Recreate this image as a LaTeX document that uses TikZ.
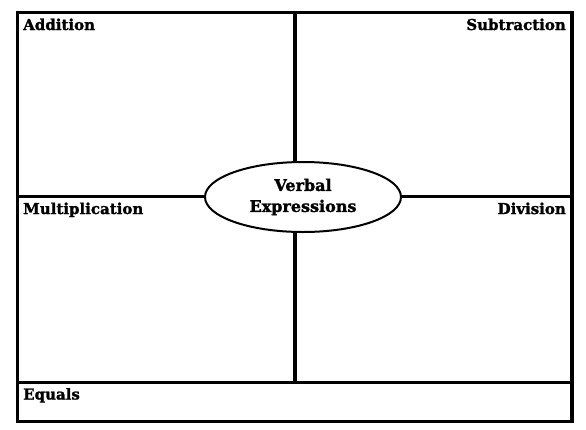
\documentclass[tikz,border=0pt]{standalone}
\usepackage{fontspec}
\setmainfont{DejaVu Serif}[BoldFeatures={FakeBold=1.5}]
\usetikzlibrary{shapes.geometric}
\begin{document}
\begin{tikzpicture}[x=1pt,y=-1pt,
  frame/.style={line width=3.2pt},
  lbl/.style={font=\bfseries\fontsize{15}{17}\selectfont, inner sep=0pt},
  oval/.style={ellipse, draw, line width=2pt, fill=white, minimum width=196pt, minimum height=70pt, inner sep=0pt, align=center, font=\bfseries\fontsize{16}{21}\selectfont}]
\useasboundingbox (0,0) rectangle (586,429);
\coordinate (tl) at (17.5,12.5);
\coordinate (br) at (572,421.5);
\coordinate (vt) at (295,12.5);
\coordinate (vb) at (295,382.5);
\coordinate (hl) at (17.5,196.5);
\coordinate (hr) at (572,196.5);
\coordinate (el) at (17.5,382.5);
\coordinate (er) at (572,382.5);
\draw[frame] (tl) rectangle (br);
\draw[frame] (vt) -- (vb);
\draw[frame] (hl) -- (hr);
\draw[frame] (el) -- (er);
\node[oval] (verbal) at (303,197) {Verbal\\Expressions};
\node[lbl, anchor=base west] (add) at (23,30) {Addition};
\node[lbl, anchor=base east] (sub) at (566,30) {Subtraction};
\node[lbl, anchor=base west] (mul) at (23,214) {Multiplication};
\node[lbl, anchor=base east] (div) at (566,214) {Division};
\node[lbl, anchor=base west] (eq) at (23,399.5) {Equals};
\end{tikzpicture}
\end{document}
